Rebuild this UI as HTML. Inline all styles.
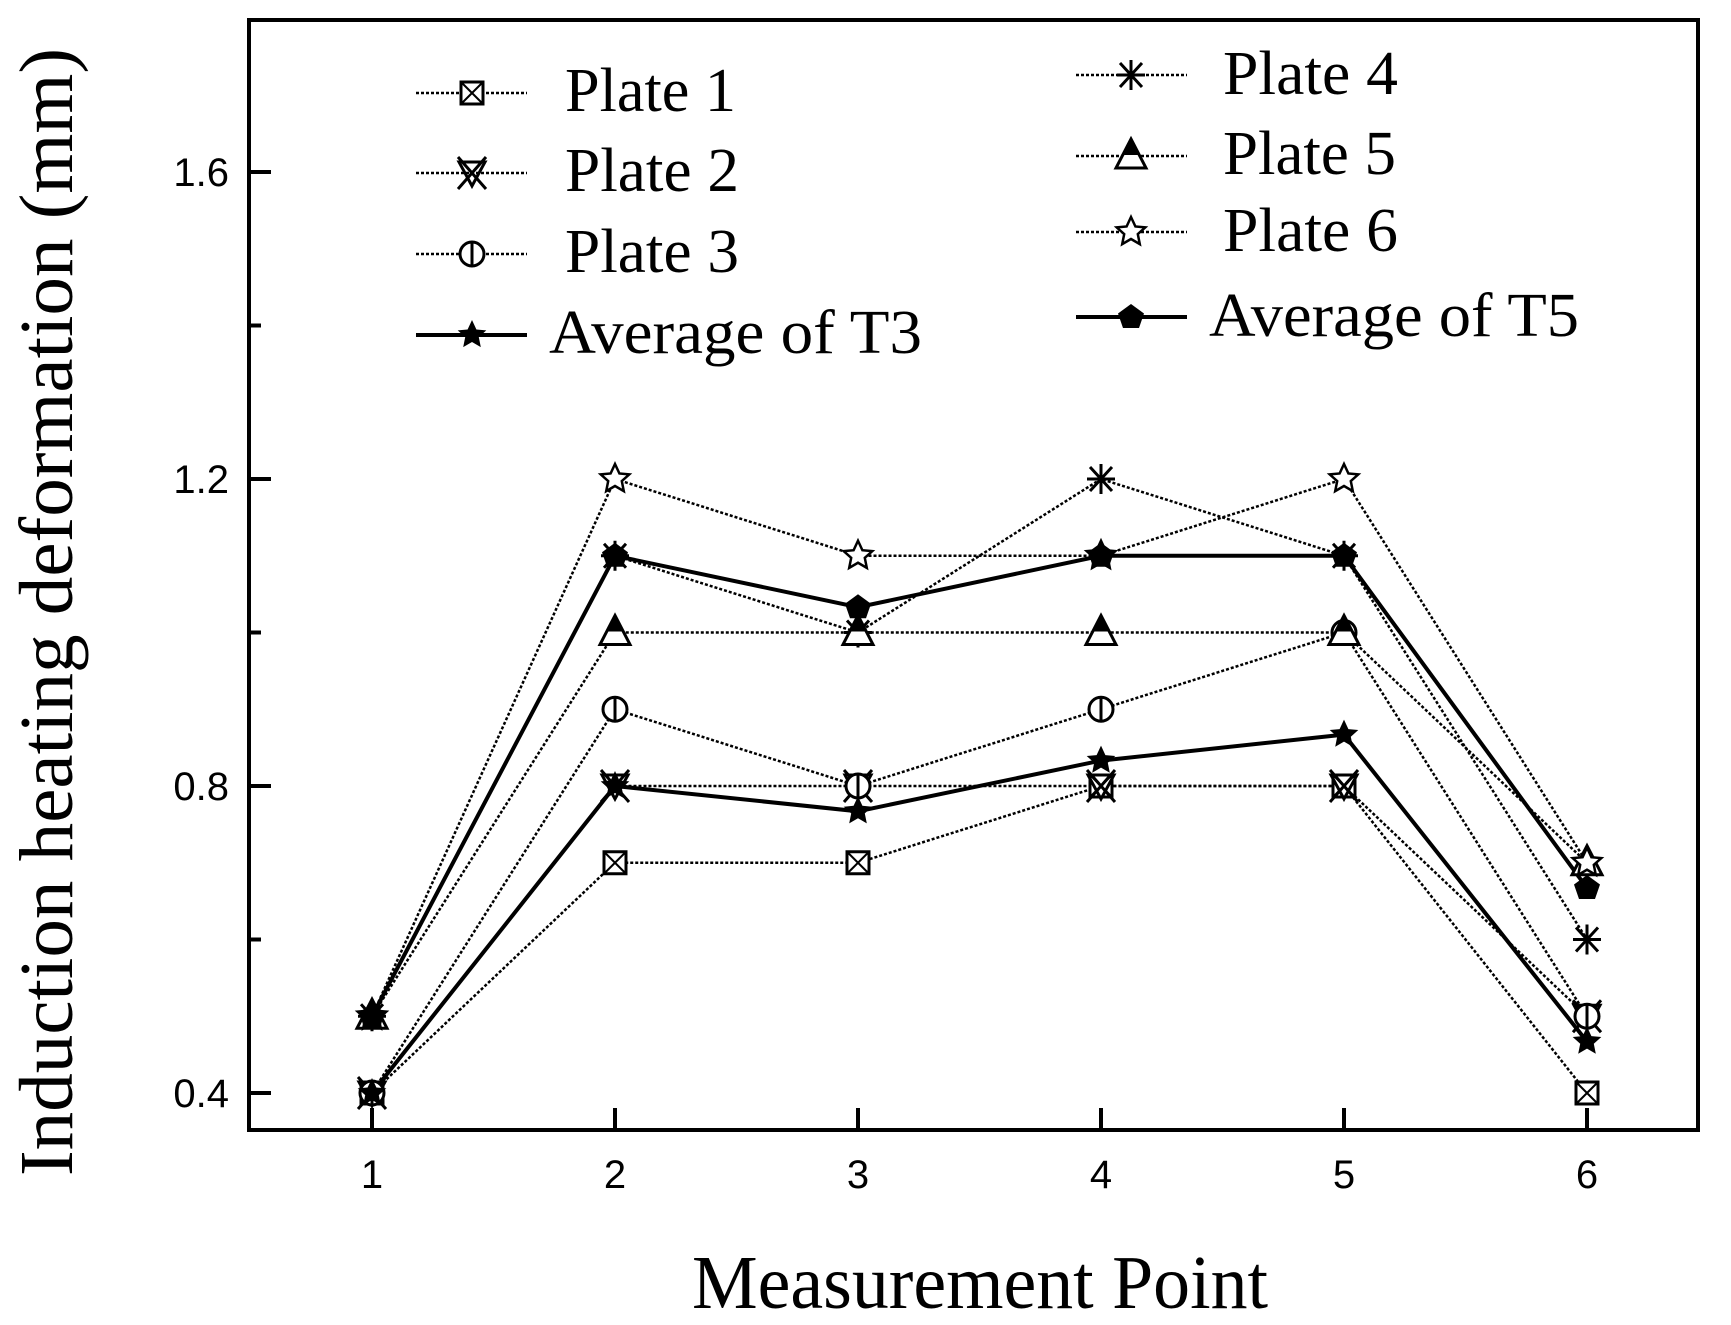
<!DOCTYPE html>
<html><head><meta charset="utf-8"><style>html,body{margin:0;padding:0;background:#fff}svg{display:block}</style></head>
<body>
<svg width="1731" height="1325" viewBox="0 0 1731 1325" xmlns="http://www.w3.org/2000/svg">
<defs>
<g id="sq"><rect x="-11" y="-11" width="22" height="22" fill="#fff" stroke="#000" stroke-width="3"/><path d="M-11-11L11 11M11-11L-11 11" stroke="#000" stroke-width="2"/></g>
<g id="xt"><path d="M-13-11H13L0 13Z" fill="none" stroke="#000" stroke-width="3"/><path d="M-14-16L14 16M14-16L-14 16" stroke="#000" stroke-width="3"/></g>
<g id="ci"><circle r="12" fill="#fff" stroke="#000" stroke-width="3"/><path d="M0-12V12" stroke="#000" stroke-width="3"/></g>
<g id="st"><path d="M0-15L4.4-5.5 14.3-4.6 6.8 2.1 8.8 12.1 0 7 -8.8 12.1 -6.8 2.1 -14.3-4.6 -4.4-5.5Z" fill="#000"/></g>
<g id="as"><path d="M-14 0H14M0-15V15M-11-12L11 12M11-12L-11 12" stroke="#000" stroke-width="3"/></g>
<g id="tr"><path d="M0-17L15 12H-15Z" fill="#fff" stroke="#000" stroke-width="3"/><path d="M0-17L8.5-1H-8.5Z" fill="#000"/></g>
<g id="os"><path d="M0-15L4.4-5.5 14.3-4.6 6.8 2.1 8.8 12.1 0 7 -8.8 12.1 -6.8 2.1 -14.3-4.6 -4.4-5.5Z" fill="#fff" stroke="#000" stroke-width="2.5"/></g>
<g id="pe"><path d="M0-13L13-3.5 8 11H-8L-13-3.5Z" fill="#000"/></g>
</defs>
<rect width="1731" height="1325" fill="#fff"/>
<rect x="249" y="20" width="1449" height="1110" fill="none" stroke="#000" stroke-width="4"/>
<g stroke="#000" stroke-width="4">
<path d="M249 1093h22M249 786h22M249 479h22M249 172h22"/>
<path d="M249 939.5h12M249 632.5h12M249 325.5h12"/>
<path d="M372 1130v-22M615 1130v-22M858 1130v-22M1101 1130v-22M1344 1130v-22M1587 1130v-22"/>
</g>
<g font-family="Liberation Sans, sans-serif" font-size="40" text-anchor="end">
<text x="229" y="1107">0.4</text><text x="229" y="800">0.8</text><text x="229" y="493">1.2</text><text x="229" y="186">1.6</text>
</g>
<g font-family="Liberation Sans, sans-serif" font-size="40" text-anchor="middle">
<text x="372" y="1188">1</text><text x="615" y="1188">2</text><text x="858" y="1188">3</text><text x="1101" y="1188">4</text><text x="1344" y="1188">5</text><text x="1587" y="1188">6</text>
</g>
<text x="692" y="1308" font-family="Liberation Serif, serif" font-size="76" textLength="576" lengthAdjust="spacingAndGlyphs">Measurement Point</text>
<text transform="translate(72 612) rotate(-90)" text-anchor="middle" font-family="Liberation Serif, serif" font-size="76" textLength="1128" lengthAdjust="spacingAndGlyphs">Induction heating deformation (mm)</text>
<g fill="none" stroke="#000" stroke-width="2.5" stroke-dasharray="3 2">
<polyline points="372,1093 615,862.75 858,862.75 1101,786 1344,786 1587,1093"/>
<polyline points="372,1093 615,786 858,786 1101,786 1344,786 1587,1016.25"/>
<polyline points="372,1093 615,709.25 858,786 1101,709.25 1344,632.5 1587,1016.25"/>
<polyline points="372,1016.25 615,555.75 858,632.5 1101,479 1344,555.75 1587,939.5"/>
<polyline points="372,1016.25 615,632.5 858,632.5 1101,632.5 1344,632.5 1587,862.75"/>
<polyline points="372,1016.25 615,479 858,555.75 1101,555.75 1344,479 1587,862.75"/>
</g>
<g fill="none" stroke="#000" stroke-width="4">
<polyline points="372,1093 615,786 858,811.3 1101,760.6 1344,734.6 1587,1041.6"/>
<polyline points="372,1016.25 615,555.75 858,607.2 1101,555.75 1344,555.75 1587,888"/>
</g>
<g>
<use href="#sq" x="372" y="1093"/><use href="#sq" x="615" y="862.75"/><use href="#sq" x="858" y="862.75"/><use href="#sq" x="1101" y="786"/><use href="#sq" x="1344" y="786"/><use href="#sq" x="1587" y="1093"/>
<use href="#xt" x="372" y="1093"/><use href="#xt" x="615" y="786"/><use href="#xt" x="858" y="786"/><use href="#xt" x="1101" y="786"/><use href="#xt" x="1344" y="786"/><use href="#xt" x="1587" y="1016.25"/>
<use href="#ci" x="372" y="1093"/><use href="#ci" x="615" y="709.25"/><use href="#ci" x="858" y="786"/><use href="#ci" x="1101" y="709.25"/><use href="#ci" x="1344" y="632.5"/><use href="#ci" x="1587" y="1016.25"/>
<use href="#as" x="372" y="1016.25"/><use href="#as" x="615" y="555.75"/><use href="#as" x="858" y="632.5"/><use href="#as" x="1101" y="479"/><use href="#as" x="1344" y="555.75"/><use href="#as" x="1587" y="939.5"/>
<use href="#tr" x="372" y="1016.25"/><use href="#tr" x="615" y="632.5"/><use href="#tr" x="858" y="632.5"/><use href="#tr" x="1101" y="632.5"/><use href="#tr" x="1344" y="632.5"/><use href="#tr" x="1587" y="862.75"/>
<use href="#os" x="372" y="1016.25"/><use href="#os" x="615" y="479"/><use href="#os" x="858" y="555.75"/><use href="#os" x="1101" y="555.75"/><use href="#os" x="1344" y="479"/><use href="#os" x="1587" y="862.75"/>
<use href="#st" x="372" y="1093"/><use href="#st" x="615" y="786"/><use href="#st" x="858" y="811.3"/><use href="#st" x="1101" y="760.6"/><use href="#st" x="1344" y="734.6"/><use href="#st" x="1587" y="1041.6"/>
<use href="#pe" x="372" y="1016.25"/><use href="#pe" x="615" y="555.75"/><use href="#pe" x="858" y="607.2"/><use href="#pe" x="1101" y="555.75"/><use href="#pe" x="1344" y="555.75"/><use href="#pe" x="1587" y="888"/>
</g>
<g fill="none" stroke="#000" stroke-width="2.5" stroke-dasharray="3 2">
<path d="M416 93H527M416 173H527M416 254H527"/>
<path d="M1076 75H1187M1076 156H1187M1076 232H1187"/>
</g>
<g stroke="#000" stroke-width="4"><path d="M416 335H527M1076 317H1187"/></g>
<use href="#sq" x="472" y="93"/><use href="#xt" x="472" y="173"/><use href="#ci" x="472" y="254"/><use href="#st" x="472" y="335"/>
<use href="#as" x="1131" y="75"/><use href="#tr" x="1131" y="156"/><use href="#os" x="1131" y="232"/><use href="#pe" x="1131" y="317"/>
<g font-family="Liberation Serif, serif" font-size="62">
<text x="565" y="111" textLength="171" lengthAdjust="spacingAndGlyphs">Plate 1</text>
<text x="565" y="191" textLength="174" lengthAdjust="spacingAndGlyphs">Plate 2</text>
<text x="565" y="272" textLength="174" lengthAdjust="spacingAndGlyphs">Plate 3</text>
<text x="549" y="353" textLength="373" lengthAdjust="spacingAndGlyphs">Average of T3</text>
<text x="1223" y="94" textLength="175" lengthAdjust="spacingAndGlyphs">Plate 4</text>
<text x="1223" y="174" textLength="173" lengthAdjust="spacingAndGlyphs">Plate 5</text>
<text x="1223" y="251" textLength="175" lengthAdjust="spacingAndGlyphs">Plate 6</text>
<text x="1209" y="336" textLength="370" lengthAdjust="spacingAndGlyphs">Average of T5</text>
</g>
</svg>
</body></html>
